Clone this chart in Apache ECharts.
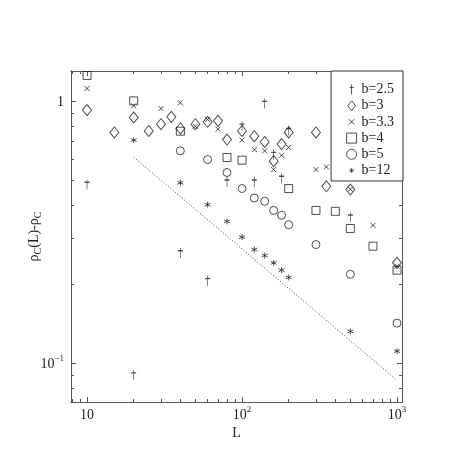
<!DOCTYPE html>
<html>
<head>
<meta charset="utf-8">
<script src="https://cdn.jsdelivr.net/npm/echarts@6/dist/echarts.min.js"></script>
<style>
  html, body { margin: 0; padding: 0; background: #fff; }
  #chart { width: 474px; height: 474px; }
</style>
</head>
<body>
<div id="chart"></div>
<script>
// data: [L, rho_c(L) - rho_c]
const b25 = [[10, 0.48], [20, 0.09], [40, 0.263], [60, 0.206], [80, 0.49], [100, 0.80], [120, 0.49],
  [140, 0.977], [160, 0.624], [180, 0.506], [200, 0.77], [500, 0.36]];
const b3 = [[10, 0.922], [15, 0.758], [20, 0.864], [25, 0.768], [30, 0.815], [35, 0.869], [40, 0.785],
  [50, 0.815], [60, 0.832], [70, 0.839], [80, 0.712], [100, 0.768], [120, 0.733], [140, 0.697],
  [160, 0.589], [180, 0.684], [200, 0.758], [300, 0.758], [350, 0.472], [500, 0.459], [1000, 0.241]];
const b33 = [[10, 1.115], [20, 0.957], [30, 0.935], [40, 0.983], [50, 0.80], [60, 0.849], [70, 0.78],
  [100, 0.708], [120, 0.652], [140, 0.645], [160, 0.547], [180, 0.62], [200, 0.664], [300, 0.547],
  [350, 0.56], [500, 0.46], [700, 0.335], [1000, 0.234]];
const b4 = [[10, 1.25], [20, 1.0], [40, 0.766], [80, 0.608], [100, 0.594], [200, 0.463], [300, 0.382],
  [400, 0.379], [500, 0.326], [700, 0.279], [1000, 0.226]];
const b5 = [[40, 0.645], [60, 0.597], [80, 0.533], [100, 0.463], [120, 0.426], [140, 0.414], [160, 0.382],
  [180, 0.366], [200, 0.337], [300, 0.283], [500, 0.218], [1000, 0.142]];
const b12 = [[20, 0.708], [40, 0.487], [60, 0.402], [80, 0.347], [100, 0.302], [120, 0.271], [140, 0.257],
  [160, 0.241], [180, 0.226], [200, 0.212], [500, 0.132], [1000, 0.111]];
const guideLine = [[20, 0.61], [1000, 0.086]]; // dotted slope -1/2 guide

const xMajor = [10, 100, 1000];
const xMinor = [8, 9, 20, 30, 40, 50, 60, 70, 80, 90, 200, 300, 400, 500, 600, 700, 800, 900];
const yMajor = [0.1, 1];
const yMinor = [0.08, 0.09, 0.2, 0.3, 0.4, 0.5, 0.6, 0.7, 0.8, 0.9];
const xRange = [7.88, 1077];
const yRange = [0.071, 1.30];

const FONT = "Liberation Serif";
const INK = "#222";
const AXIS = "#555";

// marker shapes (drawn as strokes)
const DAGGER = "path://M5,0L5,14M2,4L8,4";
const CROSS = "path://M0,0L10,10M10,0L0,10";
const STAR = "path://M5,0L5,10M0.7,2.5L9.3,7.5M9.3,2.5L0.7,7.5";
const DIAMOND = "path://M5,0L10,6.5L5,13L0,6.5Z";
// legend versions: same shapes padded so they come out smaller in the 10px box
const CROSS_LEG = "path://M0,0M10,10M2.3,2.3L7.7,7.7M7.7,2.3L2.3,7.7";
const STAR_LEG = "path://M0,0M10,10M5,2.6L5,7.4M2.9,3.8L7.1,6.2M7.1,3.8L2.9,6.2";

const chart = echarts.init(document.getElementById("chart"));

const supLabel = (v) => {
  if (v === 1) return "{b|1}";
  if (v === 10) return "{b|10}";
  const e = Math.round(Math.log10(v));
  return "{b|10}{s|" + (e < 0 ? "\u2212" + (-e) : e) + "}";
};
const labelRich = {
  b: { fontFamily: FONT, fontSize: 14, color: INK, lineHeight: 17, verticalAlign: "bottom" },
  s: { fontFamily: FONT, fontSize: 9, color: INK, lineHeight: 10, verticalAlign: "top" }
};

const makeX = (pos, vals, len, labels) => ({
  type: "log", logBase: 10, position: pos, min: xRange[0], max: xRange[1],
  axisLine: { show: true, lineStyle: { color: AXIS, width: 1 } },
  axisTick: { show: true, inside: true, length: len, customValues: vals, lineStyle: { color: AXIS } },
  axisLabel: labels ? { show: true, customValues: xMajor, margin: 3, formatter: supLabel, rich: labelRich } : { show: false },
  splitLine: { show: false }, minorTick: { show: false }
});
const makeY = (pos, vals, len, labels) => ({
  type: "log", logBase: 10, position: pos, min: yRange[0], max: yRange[1],
  axisLine: { show: true, lineStyle: { color: AXIS, width: 1 } },
  axisTick: { show: true, inside: true, length: len, customValues: vals, lineStyle: { color: AXIS } },
  axisLabel: labels ? { show: true, customValues: yMajor, margin: 7, formatter: supLabel, rich: labelRich } : { show: false },
  splitLine: { show: false }, minorTick: { show: false }
});

const xAxes = [makeX("bottom", xMajor, 5, true), makeX("bottom", xMinor, 3, false),
  makeX("top", xMajor, 5, false), makeX("top", xMinor, 3, false)];
xAxes[0].name = "L";
xAxes[0].nameLocation = "middle";
xAxes[0].nameGap = 24;
xAxes[0].nameMoveOverlap = false;
xAxes[0].nameTextStyle = { fontFamily: FONT, fontSize: 14, color: INK };

const yAxes = [makeY("left", yMajor, 5, true), makeY("left", yMinor, 3, false),
  makeY("right", yMajor, 5, false), makeY("right", yMinor, 3, false)];
yAxes[0].name = "{r|\u03c1}{s|C}{r|(L)-\u03c1}{s|C}";
yAxes[0].nameLocation = "middle";
yAxes[0].nameRotate = 90;
yAxes[0].nameGap = 28;
yAxes[0].nameMoveOverlap = false;
yAxes[0].nameTextStyle = {
  rich: {
    r: { fontFamily: FONT, fontSize: 14, color: INK, lineHeight: 18, verticalAlign: "middle" },
    s: { fontFamily: FONT, fontSize: 10, color: INK, lineHeight: 18, verticalAlign: "bottom" }
  }
};

const markerSeries = (name, data, symbol, size) => ({
  name: name, type: "scatter", data: data, symbol: symbol, symbolSize: size,
  xAxisIndex: 0, yAxisIndex: 0,
  itemStyle: { color: "none", borderColor: INK, borderWidth: 1 },
  emphasis: { disabled: true }
});

chart.setOption({
  animation: false,
  backgroundColor: "#fff",
  grid: { left: 71, right: 72, top: 71, bottom: 72, containLabel: false },
  xAxis: xAxes,
  yAxis: yAxes,
  legend: {
    data: [
      { name: "b=2.5" },
      { name: "b=3" },
      { name: "b=3.3", icon: CROSS_LEG },
      { name: "b=4" },
      { name: "b=5" },
      { name: "b=12", icon: STAR_LEG }
    ],
    orient: "vertical", right: 71, top: 71,
    padding: [11, 9, 3, 13],
    itemWidth: 10, itemHeight: 10, itemGap: 1.2, itemTextGap: 8,
    borderColor: "#333", borderWidth: 1, backgroundColor: "#fff",
    itemStyle: { borderWidth: 1 },
    textStyle: { fontFamily: FONT, fontSize: 14, lineHeight: 14, color: INK },
    selectedMode: false
  },
  series: [
    markerSeries("b=2.5", b25, DAGGER, [5, 10]),
    markerSeries("b=3", b3, DIAMOND, [9, 11]),
    markerSeries("b=3.3", b33, CROSS, [5, 5]),
    markerSeries("b=4", b4, "rect", [8, 8]),
    markerSeries("b=5", b5, "circle", [8, 8]),
    markerSeries("b=12", b12, STAR, [6, 6]),
    {
      name: "guide", type: "line", data: guideLine, symbol: "none",
      xAxisIndex: 0, yAxisIndex: 0,
      lineStyle: { color: "#444", width: 1, type: [1, 2] },
      emphasis: { disabled: true }
    }
  ]
});
</script>
</body>
</html>
